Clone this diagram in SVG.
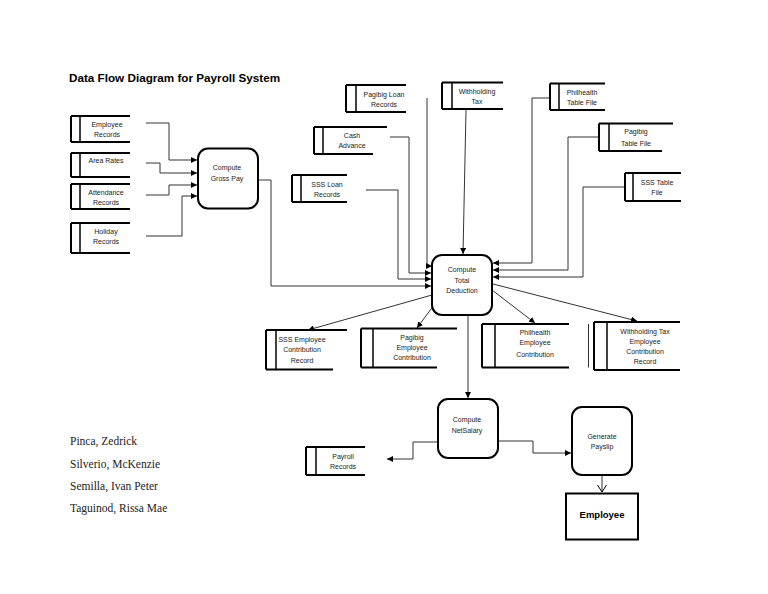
<svg xmlns="http://www.w3.org/2000/svg" width="768" height="594" viewBox="0 0 768 594">
<style>
.st{fill:none;stroke:#000;stroke-width:2}
.st2{fill:none;stroke:#000;stroke-width:1.5}
.pr{fill:#fff;stroke:#000;stroke-width:2}
.t{font-family:"Liberation Sans",Arial,sans-serif;font-size:7px;fill:#222;text-anchor:middle}
.c{fill:none;stroke:#333;stroke-width:1}
.title{font-family:"Liberation Sans",Arial,sans-serif;font-size:11.7px;font-weight:bold;fill:#000}
.nm{font-family:"Liberation Serif","Times New Roman",serif;font-size:11.5px;fill:#222}
</style>
<defs>
<marker id="ah" markerUnits="userSpaceOnUse" markerWidth="7" markerHeight="6" refX="6" refY="3" orient="auto"><path d="M0,0 L6,3 L0,6 Z" fill="#000"/></marker>
<marker id="oa" markerUnits="userSpaceOnUse" markerWidth="8" markerHeight="10" refX="7" refY="5" orient="auto"><path d="M0,0.5 L7,5 L0,9.5" fill="none" stroke="#000" stroke-width="1"/></marker>
</defs>
<rect width="768" height="594" fill="#fff"/>
<text class="title" x="69" y="82">Data Flow Diagram for Payroll System</text>

<g id="connectors" class="c">
<path class="c" d="M146,123 H169 V160 H197" marker-end="url(#ah)"/>
<path class="c" d="M146,163 H160 V173 H197" marker-end="url(#ah)"/>
<path class="c" d="M146,195 H169 V185 H197" marker-end="url(#ah)"/>
<path class="c" d="M146,236 H182 V196 H197" marker-end="url(#ah)"/>
<path class="c" d="M258,180 H271 V286 H431" marker-end="url(#ah)"/>
<path class="c" d="M366,190 H398 V279 H431" marker-end="url(#ah)"/>
<path class="c" d="M390,137 H409 V273 H431" marker-end="url(#ah)"/>
<path class="c" d="M427,98 V266 H432" marker-end="url(#ah)"/>
<path class="c" d="M466,110 L463,254" marker-end="url(#ah)"/>
<path class="c" d="M550,98 H532 V263 H493" marker-end="url(#ah)"/>
<path class="c" d="M599,137 H568 V270 H493" marker-end="url(#ah)"/>
<path class="c" d="M625,187 H583 V277 H493" marker-end="url(#ah)"/>
<path class="c" d="M432,295 L308,330" marker-end="url(#ah)"/>
<path class="c" d="M434,305 L417,328" marker-end="url(#ah)"/>
<path class="c" d="M492,290 L535,323" marker-end="url(#ah)"/>
<path class="c" d="M493,284 L637,321" marker-end="url(#ah)"/>
<path class="c" d="M468,315 V398" marker-end="url(#ah)"/>
<path class="c" d="M438,442 H413 V459 H387" marker-end="url(#ah)"/>
<path class="c" d="M498,441 H533 V453 H571" marker-end="url(#ah)"/>
<path class="c" d="M602,475 V492" marker-end="url(#oa)"/>
</g>

<g id="employee-records"><path class="st" d="M71,116 H130 M71,142 H130 M71,116 V142"/><path class="st2" d="M80,116 V142"/><text class="t" x="107" y="127">Employee</text><text class="t" x="107" y="137">Records</text></g>
<g id="area-rates"><path class="st" d="M71,153 H130 M71,177 H130 M71,153 V177"/><path class="st2" d="M80,153 V177"/><text class="t" x="106" y="163">Area Rates</text></g>
<g id="attendance-records"><path class="st" d="M71,184 H130 M71,209 H130 M71,184 V209"/><path class="st2" d="M80,184 V209"/><text class="t" x="106" y="194.5">Attendance</text><text class="t" x="106" y="204.5">Records</text></g>
<g id="holiday-records"><path class="st" d="M71,223 H130 M71,253 H130 M71,223 V253"/><path class="st2" d="M80,223 V253"/><text class="t" x="106" y="233.5">Holiday</text><text class="t" x="106" y="244">Records</text></g>

<g id="compute-gross-pay"><rect class="pr" x="198" y="148.5" width="60" height="60" rx="10"/><text class="t" x="227" y="170">Compute</text><text class="t" x="227" y="181">Gross Pay</text></g>

<g id="pagibig-loan-records"><path class="st" d="M346,85 H406 M346,112 H406 M346,85 V112"/><path class="st2" d="M356,85 V112"/><text class="t" x="384" y="97">Pagibig Loan</text><text class="t" x="384" y="107">Records</text></g>
<g id="withholding-tax"><path class="st" d="M442,82.5 H503 M442,109 H503 M442,82.5 V109"/><path class="st2" d="M452,82.5 V109"/><text class="t" x="477" y="93.5">Withholding</text><text class="t" x="477" y="104">Tax</text></g>
<g id="cash-advance"><path class="st" d="M314,127 H387 M314,154 H373 M314,127 V154"/><path class="st2" d="M323,127 V154"/><text class="t" x="352" y="138">Cash</text><text class="t" x="352" y="148">Advance</text></g>
<g id="sss-loan-records"><path class="st" d="M292,175 H347 M292,202 H347 M292,175 V202"/><path class="st2" d="M301,175 V202"/><text class="t" x="327" y="187">SSS Loan</text><text class="t" x="327" y="197">Records</text></g>
<g id="philhealth-table-file"><path class="st" d="M550,83.5 H605 M550,110 H605 M550,83.5 V110"/><path class="st2" d="M559,83.5 V110"/><text class="t" x="582" y="95">Philhealth</text><text class="t" x="582" y="105">Table File</text></g>
<g id="pagibig-table-file"><path class="st" d="M599,123.5 H673 M599,151 H662 M599,123.5 V151"/><path class="st2" d="M609,123.5 V151"/><text class="t" x="636" y="134">Pagibig</text><text class="t" x="636" y="145.5">Table File</text></g>
<g id="sss-table-file"><path class="st" d="M625,173 H681 M625,201 H681 M625,173 V201"/><path class="st2" d="M633,173 V201"/><text class="t" x="657" y="185">SSS Table</text><text class="t" x="657" y="195">File</text></g>

<g id="compute-total-deduction"><rect class="pr" x="432" y="255" width="60" height="60" rx="10"/><text class="t" x="462" y="272">Compute</text><text class="t" x="462" y="282.5">Total</text><text class="t" x="462" y="292.5">Deduction</text></g>

<g id="sss-employee-contribution-record"><path class="st" d="M266,330 H347 M266,369.5 H333 M266,330 V369.5"/><path class="st2" d="M276,330 V369.5"/><text class="t" x="302" y="342">SSS Employee</text><text class="t" x="302" y="352">Contribution</text><text class="t" x="302" y="362.5">Record</text></g>
<g id="pagibig-employee-contribution"><path class="st" d="M361,328.5 H457 M361,367.5 H437 M361,328.5 V367.5"/><path class="st2" d="M373,328.5 V367.5"/><text class="t" x="412" y="340">Pagibig</text><text class="t" x="412" y="350">Employee</text><text class="t" x="412" y="360">Contribution</text></g>
<g id="philhealth-employee-contribution"><path class="st" d="M482,324 H569 M482,367.5 H569 M482,324 V367.5"/><path class="st2" d="M495,324 V367.5"/><text class="t" x="535" y="335">Philhealth</text><text class="t" x="535" y="345">Employee</text><text class="t" x="535" y="356.5">Contribution</text></g>
<g id="withholding-tax-employee-contribution-record"><path class="c" d="M588.5,324 V367.5"/><path class="st" d="M594,322 H680 M594,370 H680 M594,322 V370" stroke-width="2.5"/><path class="st2" d="M607,322 V370"/><text class="t" x="645" y="333.5">Withholding Tax</text><text class="t" x="645" y="343.5">Employee</text><text class="t" x="645" y="353.5">Contribution</text><text class="t" x="645" y="363.5">Record</text></g>

<g id="compute-net-salary"><rect class="pr" x="438" y="399" width="60" height="59" rx="10"/><text class="t" x="467" y="422">Compute</text><text class="t" x="467" y="432.5">NetSalary</text></g>
<g id="payroll-records"><path class="st" d="M306,447 H365 M306,475 H365 M306,447 V475"/><path class="st2" d="M316,447 V475"/><text class="t" x="343" y="458.5">Payroll</text><text class="t" x="343" y="469">Records</text></g>
<g id="generate-payslip"><rect class="pr" x="572" y="407" width="60" height="68" rx="10"/><text class="t" x="602" y="438.5">Generate</text><text class="t" x="602" y="448.5">Payslip</text></g>
<g id="employee"><rect class="pr" x="566" y="493.5" width="72" height="46"/><text x="602" y="517.5" text-anchor="middle" font-family="Liberation Sans,Arial,sans-serif" font-size="9.5" font-weight="bold" fill="#000">Employee</text></g>

<g id="authors">
<text class="nm" x="70" y="445">Pinca, Zedrick</text>
<text class="nm" x="70" y="467.5">Silverio, McKenzie</text>
<text class="nm" x="70" y="490">Semilla, Ivan Peter</text>
<text class="nm" x="70" y="512">Taguinod, Rissa Mae</text>
</g>
</svg>
